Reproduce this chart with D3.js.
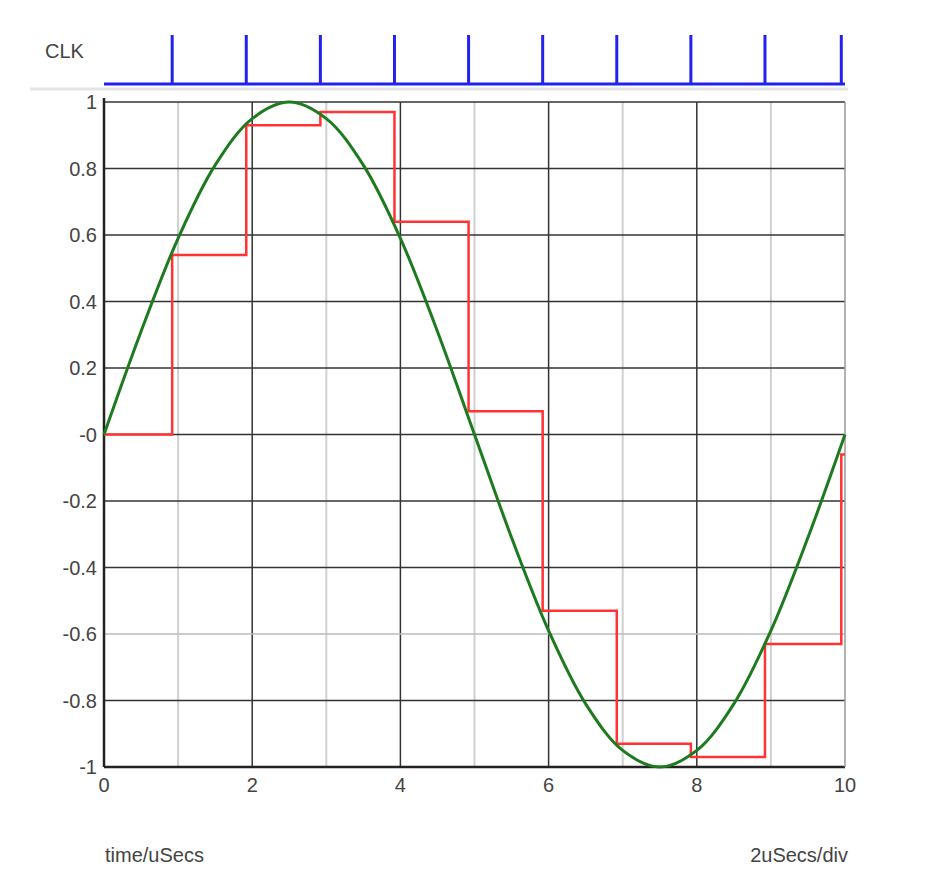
<!DOCTYPE html>
<html><head><meta charset="utf-8">
<script src="https://cdn.jsdelivr.net/npm/d3@7"></script>
<style>body{margin:0;background:#fff}text{font-family:"Liberation Sans",Arial,sans-serif}</style>
</head><body><svg id="c" width="928" height="886"></svg>
<script>
const clockTimes = [0.92,1.92,2.92,3.92,4.92,5.92,6.92,7.92,8.92,9.95];
const sampleTimes = [0,0.92,1.92,2.92,3.92,4.92,5.92,6.92,7.92,8.92,9.95,10];
const sampleValues = [0,0.54,0.93,0.97,0.64,0.07,-0.53,-0.93,-0.97,-0.63,-0.06,-0.06];
const sineTimes = [0,0.5,1,1.5,2,2.5,3,3.5,4,4.5,5,5.5,6,6.5,7,7.5,8,8.5,9,9.5,10];
const sineValues = [0,0.31,0.59,0.81,0.95,1.0,0.95,0.81,0.59,0.31,0,-0.31,-0.59,-0.81,-0.95,-1.0,-0.95,-0.81,-0.59,-0.31,0];
const yTicks = [1,0.8,0.6,0.4,0.2,0,-0.2,-0.4,-0.6,-0.8,-1];
const yTickLabels = ["1","0.8","0.6","0.4","0.2","-0","-0.2","-0.4","-0.6","-0.8","-1"];
const xTicks = [0,2,4,6,8,10];

const svg = d3.select("#c");
const x = d3.scaleLinear().domain([0,10]).range([104,845]);
const y = d3.scaleLinear().domain([-1,1]).range([767,102]);

d3.range(1,10).forEach(t=>{
  svg.append("line").attr("x1",x(t)).attr("x2",x(t)).attr("y1",y(1)).attr("y2",y(-1))
    .attr("stroke", t%2? "#d0d0d0":"#333").attr("stroke-width", t%2?2:1.5);
});
yTicks.forEach(v=>{
  svg.append("line").attr("x1",x(0)).attr("x2",x(10)).attr("y1",y(v)).attr("y2",y(v))
    .attr("stroke", Math.abs(v+0.6)<1e-9? "#bbb":"#333").attr("stroke-width",1.5);
});
svg.append("line").attr("x1",x(0)).attr("x2",x(0)).attr("y1",y(1)-4).attr("y2",y(-1)).attr("stroke","#222").attr("stroke-width",2.5);
svg.append("line").attr("x1",x(0)).attr("x2",x(10)).attr("y1",y(-1)).attr("y2",y(-1)).attr("stroke","#222").attr("stroke-width",2.5);
svg.append("line").attr("x1",x(10)).attr("x2",x(10)).attr("y1",y(1)).attr("y2",y(-1)).attr("stroke","#999").attr("stroke-width",1.5);

yTicks.forEach((v,i)=>{
  svg.append("text").attr("x",x(0)-7).attr("y",y(v)+7).attr("text-anchor","end")
    .attr("font-size",20).attr("fill","#444").text(yTickLabels[i]);
});
xTicks.forEach(v=>{
  svg.append("text").attr("x",x(v)).attr("y",y(-1)+25).attr("text-anchor","middle")
    .attr("font-size",20).attr("fill","#444").text(v);
});
svg.append("text").attr("x",105).attr("y",862).attr("font-size",20).attr("fill","#444").text("time/uSecs");
svg.append("text").attr("x",848).attr("y",862).attr("text-anchor","end").attr("font-size",20).attr("fill","#444").text("2uSecs/div");

svg.append("line").attr("x1",30).attr("x2",848).attr("y1",89).attr("y2",89).attr("stroke","#e4e4e4").attr("stroke-width",3);
svg.append("text").attr("x",45).attr("y",58).attr("font-size",20).attr("fill","#444").text("CLK");
svg.append("line").attr("x1",x(0)).attr("x2",x(10)).attr("y1",84).attr("y2",84).attr("stroke","#2222ee").attr("stroke-width",3);
clockTimes.forEach(t=>{
  svg.append("line").attr("x1",x(t)).attr("x2",x(t)).attr("y1",35).attr("y2",84).attr("stroke","#2222ee").attr("stroke-width",3);
});

svg.append("path").datum(sampleTimes.map((t,i)=>[t,sampleValues[i]]))
  .attr("d", d3.line().x(d=>x(d[0])).y(d=>y(d[1])).curve(d3.curveStepAfter))
  .attr("fill","none").attr("stroke","#ff3333").attr("stroke-width",2.5);
svg.append("path").datum(sineTimes.map((t,i)=>[t,sineValues[i]]))
  .attr("d", d3.line().x(d=>x(d[0])).y(d=>y(d[1])).curve(d3.curveCatmullRom))
  .attr("fill","none").attr("stroke","#1e7a1e").attr("stroke-width",3);
</script></body></html>
